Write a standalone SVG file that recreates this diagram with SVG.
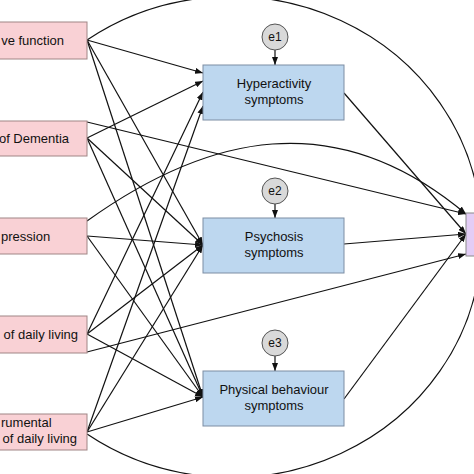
<svg xmlns="http://www.w3.org/2000/svg" width="474" height="474" viewBox="0 0 474 474">
<style>
.pred{fill:#f9d1d5;stroke:#a08585;stroke-width:1}
.med{fill:#bdd7ef;stroke:#7d8da3;stroke-width:1}
.out{fill:#e3cdf6;stroke:#8a8a8a;stroke-width:1}
.err{fill:#d9d9d9;stroke:#555;stroke-width:1}
text{font-family:"Liberation Sans",Arial,sans-serif;font-size:13px;fill:#111}
.c{text-anchor:middle}
.e{text-anchor:end}
.small{font-size:12px}
.con path,.con line{fill:none;stroke:#111;stroke-width:1.2;marker-end:url(#ah)}
</style>
<defs>
<marker id="ah" viewBox="0 0 8 6" refX="8" refY="3" markerWidth="8" markerHeight="6" markerUnits="userSpaceOnUse" orient="auto">
<path d="M0,0 L8,3 L0,6 z" fill="#111"/>
</marker>
</defs>
<rect width="474" height="474" fill="#fff"/>

<g class="con">
<!-- big arcs -->
<path d="M87,40 A250,237 0 0 1 481,222"/>
<path d="M87,434 A250,237 0 0 0 481,252"/>
<!-- cognitive -->
<line x1="87" y1="40" x2="203" y2="73"/>
<line x1="87" y1="40" x2="203" y2="245"/>
<line x1="87" y1="40" x2="203" y2="397"/>
<!-- dementia -->
<line x1="87" y1="138" x2="203" y2="81"/>
<line x1="87" y1="138" x2="203" y2="245"/>
<line x1="87" y1="138" x2="203" y2="397"/>
<line x1="87" y1="122" x2="466" y2="214"/>
<!-- depression -->
<line x1="87" y1="236" x2="203" y2="245"/>
<line x1="87" y1="236" x2="203" y2="397"/>
<path d="M87,221 C207,135 335,104 466,214"/>
<!-- daily living -->
<line x1="87" y1="334" x2="203" y2="92"/>
<line x1="87" y1="334" x2="203" y2="245"/>
<line x1="87" y1="334" x2="203" y2="397"/>
<line x1="87" y1="352" x2="466" y2="254"/>
<!-- instrumental -->
<line x1="87" y1="432" x2="203" y2="106"/>
<line x1="87" y1="432" x2="203" y2="245"/>
<line x1="87" y1="432" x2="203" y2="397"/>
<!-- mediators to outcome -->
<line x1="344" y1="93" x2="466" y2="234"/>
<line x1="344" y1="244" x2="466" y2="234"/>
<line x1="344" y1="399" x2="466" y2="234"/>
<!-- errors -->
<line x1="275" y1="50" x2="275" y2="65"/>
<line x1="275" y1="204" x2="275" y2="218"/>
<line x1="275" y1="356" x2="275" y2="371"/>
</g>

<g id="cognitive">
<rect class="pred" x="-60" y="22" width="147" height="37"/>
<text class="e" x="64" y="45">ve function</text>
</g>
<g id="dementia">
<rect class="pred" x="-60" y="121" width="147" height="35"/>
<text class="e" x="69" y="143">of Dementia</text>
</g>
<g id="depression">
<rect class="pred" x="-60" y="218" width="147" height="36"/>
<text x="1" y="241">pression</text>
</g>
<g id="adl">
<rect class="pred" x="-60" y="316" width="147" height="37"/>
<text class="e" x="78" y="339">of daily living</text>
</g>
<g id="iadl">
<rect class="pred" x="-60" y="414" width="147" height="36"/>
<text x="1" y="427">rumental</text>
<text class="e" x="77" y="443">of daily living</text>
</g>

<g id="hyperactivity">
<rect class="med" x="203" y="65" width="141" height="55"/>
<text class="c" x="274" y="88">Hyperactivity</text>
<text class="c" x="274" y="104">symptoms</text>
</g>
<g id="psychosis">
<rect class="med" x="203" y="218" width="141" height="55"/>
<text class="c" x="274" y="241">Psychosis</text>
<text class="c" x="274" y="257">symptoms</text>
</g>
<g id="physical">
<rect class="med" x="203" y="371" width="141" height="55"/>
<text class="c" x="274" y="394">Physical behaviour</text>
<text class="c" x="274" y="410">symptoms</text>
</g>

<g id="e1">
<circle class="err" cx="275" cy="37" r="13"/>
<text class="c small" x="275" y="41">e1</text>
</g>
<g id="e2">
<circle class="err" cx="275" cy="191" r="13"/>
<text class="c small" x="275" y="195">e2</text>
</g>
<g id="e3">
<circle class="err" cx="275" cy="343" r="13"/>
<text class="c small" x="275" y="347">e3</text>
</g>

<g id="outcome">
<rect class="out" x="466" y="213" width="40" height="43"/>
</g>
</svg>
